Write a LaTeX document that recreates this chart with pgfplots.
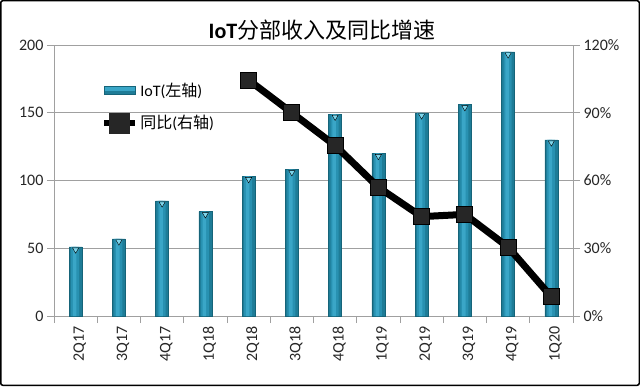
\documentclass[border=0pt]{standalone}
\usepackage{fontspec}
\setmainfont{Carlito}
\newfontfamily\cjk{Noto Sans CJK SC}
\usepackage{pgfplots}
\usepackage{pgfplotstable}
\pgfplotsset{compat=1.18}
\definecolor{barDark}{HTML}{166479}
\definecolor{barOut}{HTML}{1E7C97}
\definecolor{barMid}{HTML}{2891B1}
\definecolor{barLight}{HTML}{3AA6C7}
\definecolor{capc}{HTML}{7ED6EC}
\definecolor{gridc}{HTML}{A0A0A0}
\pgfplotstableread{
x rev
0 51
1 57
2 85
3 77
4 103
5 108
6 149
7 120
8 150
9 156
10 195
11 130
}\revtable
\pgfplotstableread{
x yoy
4 104.5
5 90
6 75.5
7 57
8 44
9 45
10 30.5
11 8.5
}\yoytable
\begin{document}
\begin{tikzpicture}
\path[use as bounding box] (0pt,0pt) rectangle (640pt,386pt);
\draw[line width=1.5pt, rounded corners=2pt] (0.75pt,0.75pt) rectangle (639.25pt,385.25pt);
\node[font=\fontsize{22}{24}\selectfont] at (322pt,356pt) {\textbf{IoT}\cjk 分部收入及同比增速};
\begin{axis}[
  at={(54pt,70pt)}, anchor=south west,
  scale only axis, width=519pt, height=271pt,
  xmin=-0.5, xmax=11.5, ymin=0, ymax=200,
  axis x line*=bottom, axis y line*=left,
  axis line style={gridc, -},
  ytick={0,50,...,200},
  ymajorgrids, grid style={gridc, line width=0.8pt},
  xtick={0,...,11},
  xticklabels={2Q17,3Q17,4Q17,1Q18,2Q18,3Q18,4Q18,1Q19,2Q19,3Q19,4Q19,1Q20},
  minor xtick={-0.5,0.5,...,11.5},
  major x tick style={draw=none},
  minor tick length=7pt, major tick length=7pt,
  tick align=outside, tick style={gridc, line width=0.8pt},
  xticklabel style={rotate=90, anchor=east, font=\fontsize{16}{17}\selectfont, yshift=-4pt, text=black!85},
  yticklabel style={font=\fontsize{16}{18}\selectfont, text=black!85},
  /pgf/number format/assume math mode=true,
  legend style={at={(rel axis cs:0.085,0.875)}, anchor=north west, draw=none, fill=none,
    font=\fontsize{16}{18}\selectfont, row sep=13pt},
  legend cell align=left,
]
\addplot[ybar, bar width=13pt, bar shift=0pt, draw=barDark, line width=0.4pt, fill=barOut,
  legend image code/.code={\draw[draw=barDark, fill=barOut] (0pt,-4pt) rectangle (31pt,4pt);
    \fill[barLight] (1pt,0pt) rectangle (30pt,3pt);}]
  table[x=x, y=rev] {\revtable};
\addlegendentry{IoT({\cjk 左轴})}
\addlegendimage{line width=6pt, black, legend image code/.code={\draw[line width=6pt] (0pt,0pt) -- (31pt,0pt); \fill[black!85] (8pt,-8pt) rectangle (23pt,7pt);}}
\addlegendentry{{\cjk 同比}({\cjk 右轴})}
\addplot[forget plot, ybar, bar width=8pt, bar shift=-0.5pt, draw=none, fill=barMid]
  table[x=x, y=rev] {\revtable};
\addplot[forget plot, ybar, bar width=3.5pt, bar shift=-1pt, draw=none, fill=barLight]
  table[x=x, y=rev] {\revtable};
\addplot[forget plot, only marks, mark=triangle*, mark size=3.6pt, mark options={rotate=180, fill=capc, draw=none}, yshift=-2.8pt]
  table[x=x, y=rev] {\revtable};
\end{axis}
\begin{axis}[
  at={(54pt,70pt)}, anchor=south west,
  scale only axis, width=519pt, height=271pt,
  xmin=-0.5, xmax=11.5, ymin=0, ymax=120,
  axis x line=none, axis y line*=right,
  axis line style={gridc, -},
  ytick={0,30,...,120},
  tick align=outside, major tick length=7pt, tick style={gridc, line width=0.8pt},
  yticklabel={\pgfmathprintnumber{\tick}\%},
  yticklabel style={font=\fontsize{16}{18}\selectfont, text=black!85},
  /pgf/number format/assume math mode=true,
]
\addplot[line width=7pt, black, mark=square*, mark size=8pt, mark options={fill=black!85, draw=black, line width=1pt}]
  table[x=x, y=yoy] {\yoytable};
\end{axis}
\end{tikzpicture}
\end{document}
